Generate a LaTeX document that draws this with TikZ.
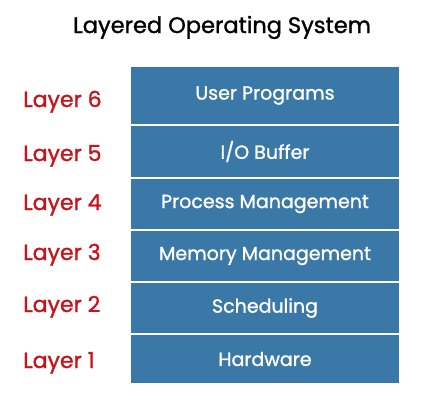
\documentclass[tikz,border=0pt]{standalone}
\usepackage{fontspec}
\setmainfont{Poppins}[UprightFeatures={FakeBold=1.2}]
\usetikzlibrary{positioning}
\definecolor{layerblue}{RGB}{58,120,168}
\definecolor{layerred}{RGB}{200,18,28}
\tikzset{
  layerbox/.style={rectangle, fill=layerblue, text=white, minimum width=268pt,
                   inner sep=0pt, font=\fontsize{19}{21}\selectfont},
  layerlbl/.style={text=layerred, anchor=base west, inner sep=0pt,
                   font=\fontsize{22}{24}\selectfont},
  titlelbl/.style={anchor=base, inner sep=0pt, font=\fontsize{22.5}{24}\selectfont}
}
\begin{document}
\begin{tikzpicture}[x=1pt, y=-1pt]
\useasboundingbox (0,0) rectangle (421,400);
\node[titlelbl] (title) at (222,33) {Layered Operating System};
% the stack, top to bottom
\node[layerbox, minimum height=57pt] (l6) at (265,95.5) {User Programs};
\node[layerbox, minimum height=51pt] (l5) at (265,151.5) {I/O Buffer};
\node[layerbox, minimum height=50pt] (l4) at (265,204) {Process Management};
\node[layerbox, minimum height=50pt] (l3) at (265,256) {Memory Management};
\node[layerbox, minimum height=50pt] (l2) at (265,308) {Scheduling};
\node[layerbox, minimum height=48pt] (l1) at (265,359) {Hardware};
% layer numbers
\node[layerlbl] (n6) at (23,107) {Layer 6};
\node[layerlbl] (n5) at (23,161) {Layer 5};
\node[layerlbl] (n4) at (23,210) {Layer 4};
\node[layerlbl] (n3) at (23,260) {Layer 3};
\node[layerlbl] (n2) at (23,312) {Layer 2};
\node[layerlbl] (n1) at (23,368) {Layer 1};
\end{tikzpicture}
\end{document}
